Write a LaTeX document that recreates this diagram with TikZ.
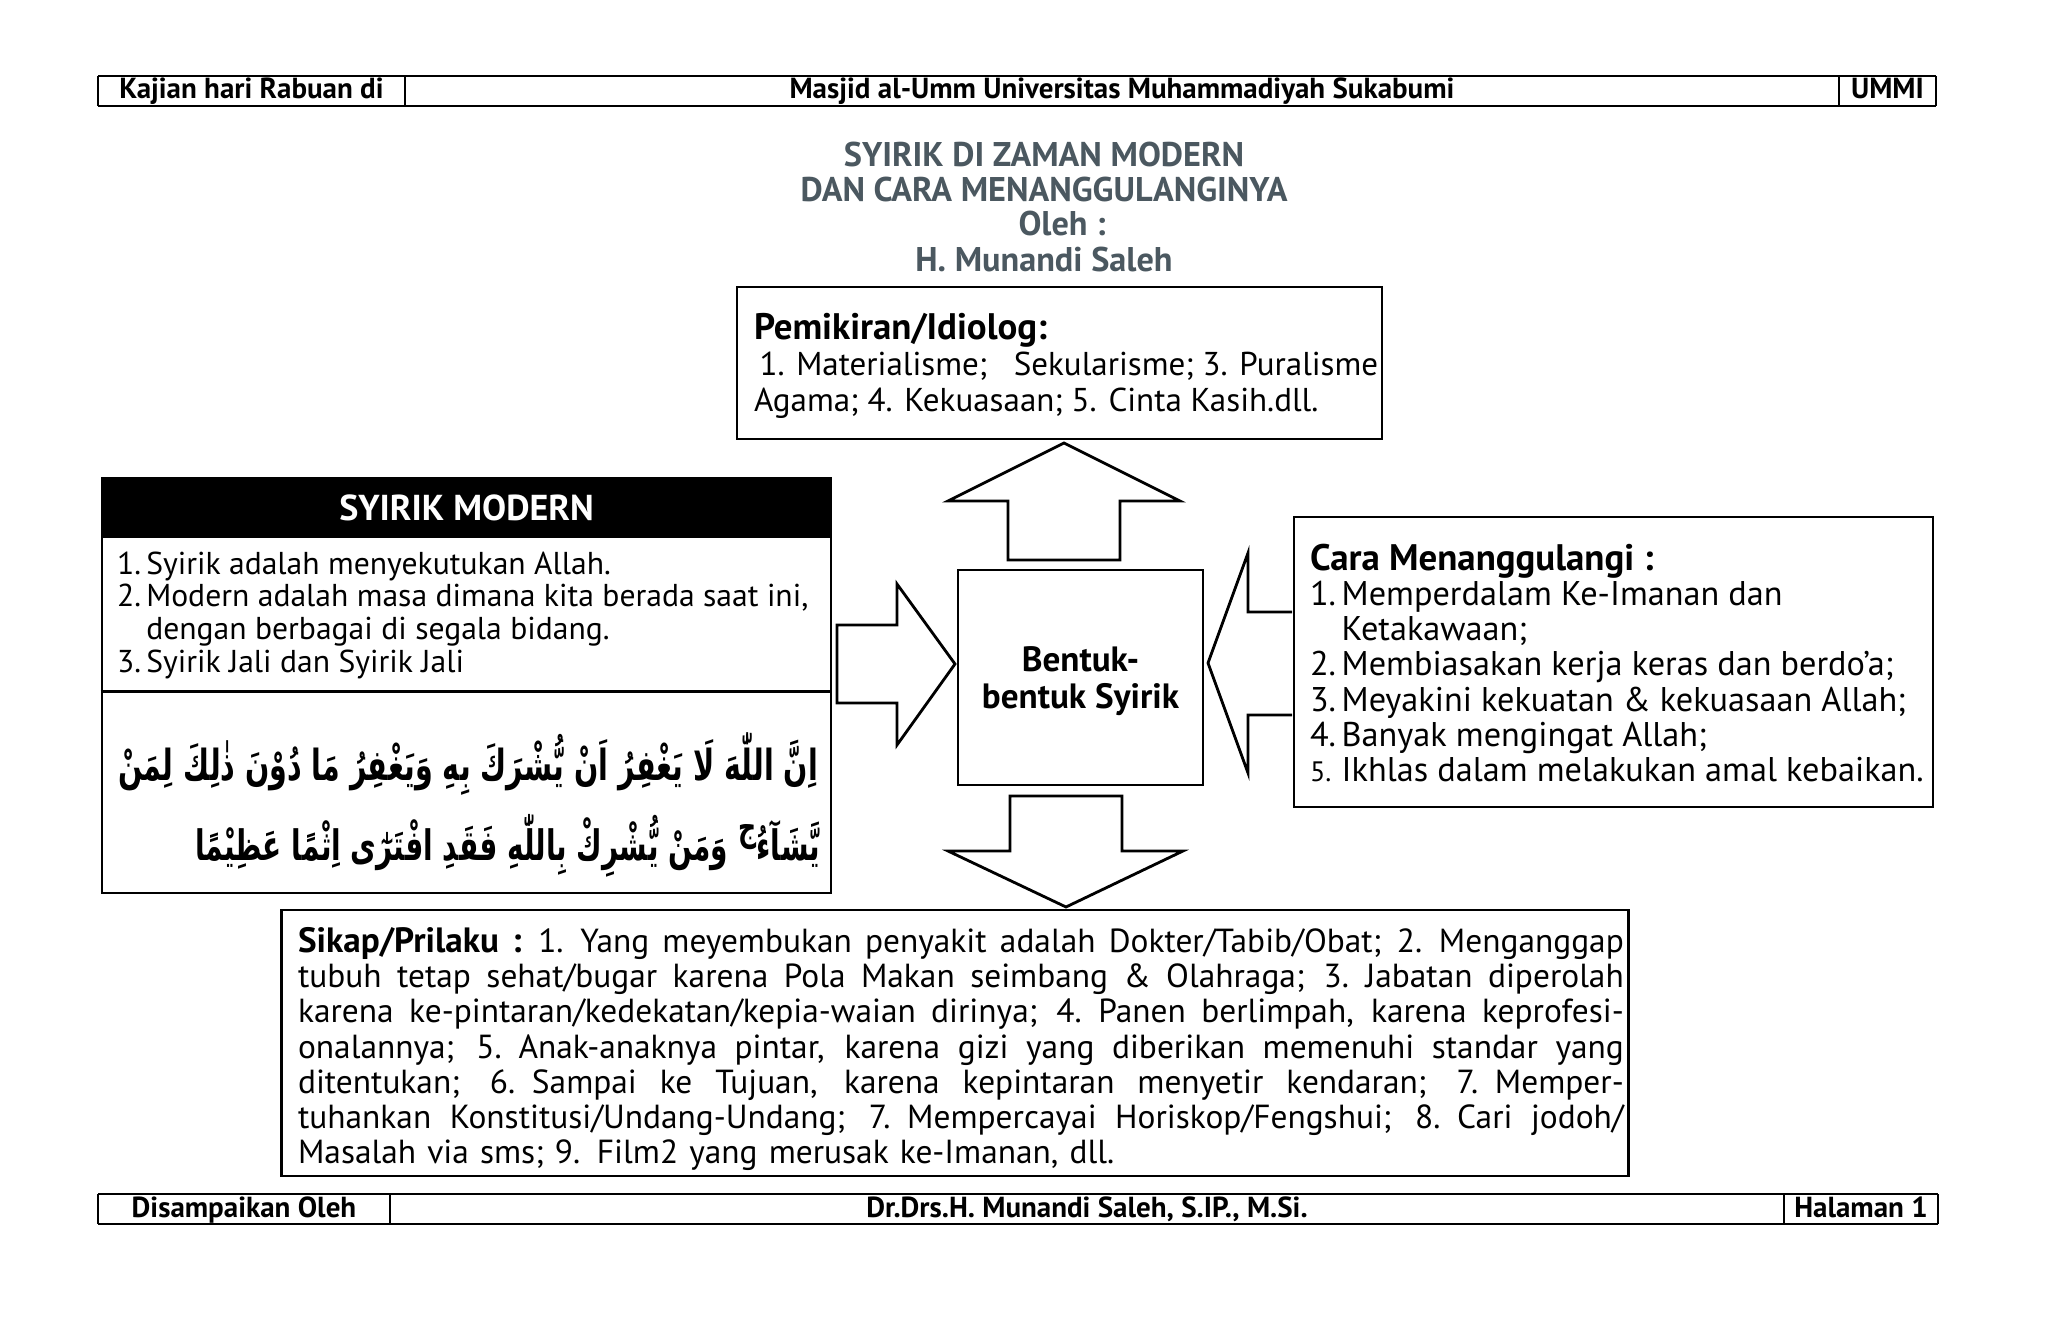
\documentclass[tikz,border=0pt]{standalone}
\usepackage{fontspec}
\setmainfont{PT Sans}
\newfontfamily\arabicfont[Script=Arabic]{DejaVu Sans}
\TeXXeTstate=1
\usetikzlibrary{calc,positioning}
\definecolor{judul}{HTML}{4B5860}
\newcommand\baris[1]{\makebox[26.52cm][s]{\spaceskip=.25em plus 1em\relax #1}}
\newcommand\jim{\raisebox{0.9ex}{\fontsize{9}{9}\selectfont ج}}
\tikzset{
  kotak/.style={draw, line width=1.6pt, inner sep=0pt},
  panah/.style={draw, line width=1.6pt, fill=white, line join=miter},
  kop/.style={inner sep=0pt, anchor=base, font=\fontsize{16.5}{18}\selectfont\bfseries},
  judulteks/.style={inner sep=0pt, text=judul, font=\fontsize{19.5}{20}\selectfont\bfseries},
  isi/.style={inner sep=0pt, align=left, font=\fontsize{19.5}{20}\selectfont},
}

\begin{document}
\begin{tikzpicture}[x=0.02cm,y=-0.02cm]
\useasboundingbox (0,0) rectangle (2048,1334);
\fill[white](0,0) rectangle (2048,1334);

%ヘッダー
\draw[line width=1.4pt](98,76)--(1936,76); %上
\draw[line width=1.4pt](98,106)--(1936,106); %下
\draw[line width=0.8pt](98,76)--(98,106);
\draw[line width=0.8pt](405,76)--(405,106);
\draw[line width=0.8pt](1839,76)--(1839,106);
\draw[line width=0.8pt](1936,76)--(1936,106);
\node[kop] (kopkiri) at (251.5,99) {Kajian hari Rabuan di};
\node[kop] (koptengah) at (1122,99) {Masjid al-Umm Universitas Muhammadiyah Sukabumi};
\node[kop] (kopkanan) at (1887.5,99) {UMMI};

%タイトル
\node[judulteks] (judul1) at (1044,155) {SYIRIK DI ZAMAN MODERN};
\node[judulteks] (judul2) at (1044,190) {DAN CARA MENANGGULANGINYA};
\node[judulteks] (judul3) at (1062,224) {Oleh :};
\node[judulteks] (judul4) at (1044,260) {H. Munandi Saleh};

%上の枠
\node[kotak, minimum width=12.9cm, minimum height=3.04cm] (pemikiran) at (1059.5,363) {};
\node[isi, anchor=west, font=\fontsize{18.8}{20.5}\selectfont] (pemikiranisi) at ([xshift=0.36cm,yshift=-0.06cm]pemikiran.west)
  {{\fontsize{21}{20.5}\selectfont\bfseries Pemikiran/Idiolog:}\\
   \,1. Materialisme;\ \ \ Sekularisme; 3. Puralisme\\
   Agama; 4. Kekuasaan; 5. Cinta Kasih.dll.};

%中央
\node[kotak, minimum width=4.9cm, minimum height=4.3cm] (pusat) at (1080.5,677.5) {};
\node[inner sep=0pt, align=center, font=\fontsize{20}{21}\selectfont\bfseries] (pusatisi)
  at ([yshift=-0.08cm]pusat.center) {Bentuk-\\bentuk Syirik};

%左の枠
\node[kotak, minimum width=14.58cm, minimum height=8.3cm] (kiri) at (466.5,685.5) {};
\fill (kiri.north west) rectangle ($(kiri.north east)+(0,61)$); %見出し
\draw[line width=1.6pt] ($(kiri.north west)+(0,215)$)--($(kiri.north east)+(0,215)$);
\node[inner sep=0pt, text=white, font=\fontsize{20.5}{21}\selectfont\bfseries] (judulkiri) at ($(kiri.north)+(0,31)$) {SYIRIK MODERN};
\node[isi, anchor=west, font=\fontsize{18}{18.6}\selectfont] (daftar) at ($(kiri.west)+(16,-69)$)
  {\begin{tabular}{@{}l@{\,}l@{}}
   1.&Syirik adalah menyekutukan Allah.\\
   2.&Modern adalah masa dimana kita berada saat ini,\\
     &dengan berbagai di segala bidang.\\
   3.&Syirik Jali dan Syirik Jali
   \end{tabular}};
\node[inner sep=0pt, anchor=east] (ayat1) at ($(kiri.east)+(-14,78.5)$)
  {\resizebox{14.0cm}{!}{\scalebox{1}[1.5]{\arabicfont\bfseries\beginR اِنَّ اللّٰهَ لَا يَغْفِرُ اَنْ يُّشْرَكَ بِهِ وَيَغْفِرُ مَا دُوْنَ ذٰلِكَ لِمَنْ\endR}}};
\node[inner sep=0pt, anchor=east] (ayat2) at ($(kiri.east)+(-12,160.5)$)
  {\resizebox{12.5cm}{!}{\scalebox{1}[1.5]{\arabicfont\bfseries\beginR يَّشَآءُ\jim{} وَمَنْ يُّشْرِكْ بِاللّٰهِ فَقَدِ افْتَرٰٓى اِثْمًا عَظِيْمًا\endR}}};

%右の枠
\node[kotak, minimum width=12.78cm, minimum height=5.8cm] (cara) at (1613.5,662) {};
\node[isi, anchor=west] (caraisi) at ([xshift=0.34cm,yshift=-0.12cm]cara.west)
  {\begin{tabular}{@{}l@{\,}l@{}}
   \multicolumn{2}{@{}l@{}}{\fontsize{21}{20}\selectfont\bfseries Cara Menanggulangi :}\\
   1.&Memperdalam Ke-Imanan dan\\
     &Ketakawaan;\\
   2.&Membiasakan kerja keras dan berdo’a;\\
   3.&Meyakini kekuatan \& kekuasaan Allah;\\
   4.&Banyak mengingat Allah;\\
   {\fontsize{16}{20}\selectfont 5.}&Ikhlas dalam melakukan amal kebaikan.
   \end{tabular}};

%下の枠
\node[kotak, minimum width=26.96cm, minimum height=5.32cm] (sikap) at (955,1043) {};
\node[isi, anchor=west, text width=26.52cm, font=\fontsize{19}{20}\selectfont] (sikapisi) at ([xshift=0.36cm,yshift=-0.12cm]sikap.west)
  {\baris{\textbf{\fontsize{20}{20}\selectfont Sikap/Prilaku :} 1. Yang meyembukan penyakit adalah Dokter/Tabib/Obat; 2. Menganggap}\\
   \baris{tubuh tetap sehat/bugar karena Pola Makan seimbang \& Olahraga; 3. Jabatan diperolah}\\
   \baris{karena ke-pintaran/kedekatan/kepia-waian dirinya; 4. Panen berlimpah, karena keprofesi-}\\
   \baris{onalannya; 5. Anak-anaknya pintar, karena gizi yang diberikan memenuhi standar yang}\\
   \baris{ditentukan; 6. Sampai ke Tujuan, karena kepintaran menyetir kendaran; 7. Memper-}\\
   \baris{tuhankan Konstitusi/Undang-Undang; 7. Mempercayai Horiskop/Fengshui; 8. Cari jodoh/}\\
   Masalah via sms; 9. Film2 yang merusak ke-Imanan, dll.};

%矢印
\draw[panah](1008,560)--(1008,501)--(948,501)--(1064,443)--(1180,501)--(1120,501)--(1120,560)--cycle; %上
\draw[panah](1010,796)--(1122,796)--(1122,851)--(1183,851)--(1066,907)--(948,851)--(1010,851)--cycle; %下
\draw[panah](837,625)--(897,625)--(897,584)--(955,664)--(897,745)--(897,703)--(837,703)--cycle; %左から
\draw[panah](1292,612)--(1248,612)--(1248,553)--(1208,663)--(1248,773)--(1248,715)--(1292,715); %右から

%フッター
\draw[line width=1.4pt](98,1194)--(1938,1194);
\draw[line width=1.4pt](98,1224)--(1938,1224);
\draw[line width=0.8pt](98,1194)--(98,1224);
\draw[line width=0.8pt](390,1194)--(390,1224);
\draw[line width=0.8pt](1784,1194)--(1784,1224);
\draw[line width=0.8pt](1938,1194)--(1938,1224);
\node[kop] (kakikiri) at (244,1217) {Disampaikan Oleh};
\node[kop] (kakitengah) at (1087,1217) {Dr.Drs.H. Munandi Saleh, S.IP., M.Si.};
\node[kop] (kakikanan) at (1861,1217) {Halaman 1};
\end{tikzpicture}
\end{document}
